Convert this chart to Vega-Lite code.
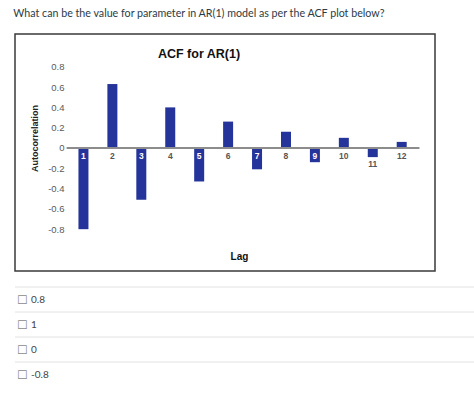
{
  "$schema": "https://vega.github.io/schema/vega-lite/v6.json",
  "padding": {"left": 13, "top": 7, "right": 0, "bottom": 0},
  "background": "white",
  "title": {
    "text": "What can be the value for parameter  in AR(1) model as per the ACF plot below?",
    "anchor": "start",
    "font": "Lato",
    "fontSize": 10.7,
    "fontWeight": "normal",
    "color": "#2d3b45",
    "dx": -1,
    "offset": 14
  },
  "config": {
    "axis": {"grid": false, "labelOverlap": false},
    "concat": {"spacing": 14}
  },
  "vconcat": [
    {
      "width": 420,
      "height": 237,
      "view": {"stroke": "#3a3a3a", "strokeWidth": 1.5},
      "title": {
        "text": "ACF for AR(1)",
        "font": "Liberation Sans",
        "fontSize": 12.5,
        "fontWeight": "bold",
        "color": "#111111",
        "anchor": "middle",
        "baseline": "middle",
        "offset": -32,
        "dx": -26
      },
      "data": {
        "values": [
          {"lag": 1, "acf": -0.80},
          {"lag": 2, "acf": 0.63},
          {"lag": 3, "acf": -0.51},
          {"lag": 4, "acf": 0.40},
          {"lag": 5, "acf": -0.33},
          {"lag": 6, "acf": 0.26},
          {"lag": 7, "acf": -0.21},
          {"lag": 8, "acf": 0.16},
          {"lag": 9, "acf": -0.14},
          {"lag": 10, "acf": 0.10},
          {"lag": 11, "acf": -0.09},
          {"lag": 12, "acf": 0.06}
        ]
      },
      "layer": [
        {
          "mark": {"type": "bar", "width": 10, "orient": "vertical", "color": "#25349a"},
          "encoding": {
            "x": {
              "field": "lag",
              "type": "quantitative",
              "scale": {"domain": [-1.193, 12.978], "nice": false, "zero": false},
              "axis": {
                "labels": false,
                "ticks": false,
                "domain": false,
                "title": "Lag",
                "titleFont": "Liberation Sans",
                "titleFontSize": 10,
                "titleFontWeight": "bold",
                "titleColor": "#111111",
                "titleX": 224,
                "titleY": -15,
                "titleBaseline": "middle",
                "titleAlign": "center"
              }
            },
            "y": {
              "field": "acf",
              "type": "quantitative",
              "scale": {"domain": [-1.212, 1.123], "nice": false, "zero": false},
              "axis": {
                "values": [-0.8, -0.6, -0.4, -0.2, 0, 0.2, 0.4, 0.6, 0.8],
                "tickCount": 20,
                "labelExpr": "'' + datum.value",
                "labelOverlap": false,
                "offset": -51,
                "labelPadding": 2,
                "domain": false,
                "ticks": false,
                "labelFont": "Liberation Sans",
                "labelFontSize": 9.5,
                "labelColor": "#5a5a5a",
                "title": "Autocorrelation",
                "titleFont": "Liberation Sans",
                "titleFontSize": 9,
                "titleFontWeight": "bold",
                "titleColor": "#222222",
                "titleX": -32,
                "titleY": 104,
                "titleAngle": -90,
                "titleBaseline": "middle",
                "titleAlign": "center"
              }
            },
            "y2": {"datum": 0}
          }
        },
        {
          "mark": {"type": "rule", "color": "#8c8c8c", "strokeWidth": 1.5},
          "encoding": {
            "x": {"datum": 0.43, "type": "quantitative"},
            "x2": {"datum": 12.6},
            "y": {"datum": 0, "type": "quantitative"}
          }
        },
        {
          "transform": [{"filter": "datum.lag != 11"}],
          "mark": {"type": "text", "font": "Liberation Sans", "fontSize": 8.5, "dy": 8, "baseline": "middle", "fontWeight": "bold"},
          "encoding": {
            "x": {"field": "lag", "type": "quantitative"},
            "y": {"datum": 0, "type": "quantitative"},
            "text": {"field": "lag"},
            "color": {
              "condition": {"test": "datum.lag % 2 == 1", "value": "#ffffff"},
              "value": "#555555"
            }
          }
        },
        {
          "transform": [{"filter": "datum.lag == 11"}],
          "mark": {"type": "text", "font": "Liberation Sans", "fontSize": 8.5, "dy": 7, "baseline": "middle", "color": "#555555", "fontWeight": "bold"},
          "encoding": {
            "x": {"field": "lag", "type": "quantitative"},
            "y": {"field": "acf", "type": "quantitative"},
            "text": {"field": "lag"}
          }
        }
      ]
    },
    {
      "width": 461,
      "height": 100,
      "view": {"stroke": null},
      "data": {
        "values": [
          {"option": "0.8", "row": 1},
          {"option": "1", "row": 2},
          {"option": "0", "row": 3},
          {"option": "-0.8", "row": 4}
        ]
      },
      "layer": [
        {
          "mark": {"type": "rule", "color": "#e2e2e2", "strokeWidth": 1},
          "encoding": {
            "y": {
              "field": "option",
              "type": "nominal",
              "sort": {"field": "row"},
              "bandPosition": 0,
              "scale": {"type": "band", "paddingInner": 0, "paddingOuter": 0},
              "axis": null
            }
          }
        },
        {
          "mark": {"type": "text", "align": "left", "baseline": "middle", "font": "DejaVu Sans", "fontSize": 12, "color": "#8a8a8a", "dx": 2},
          "encoding": {
            "x": {"datum": 0, "type": "quantitative", "scale": {"domain": [0, 1]}, "axis": null},
            "y": {"field": "option", "type": "nominal", "sort": {"field": "row"}, "bandPosition": 0.5},
            "text": {"value": "☐"}
          }
        },
        {
          "mark": {"type": "text", "align": "left", "baseline": "middle", "font": "Lato", "fontSize": 10, "color": "#444444", "dx": 16},
          "encoding": {
            "x": {"datum": 0, "type": "quantitative"},
            "y": {"field": "option", "type": "nominal", "sort": {"field": "row"}, "bandPosition": 0.5},
            "text": {"field": "option"}
          }
        }
      ]
    }
  ]
}
